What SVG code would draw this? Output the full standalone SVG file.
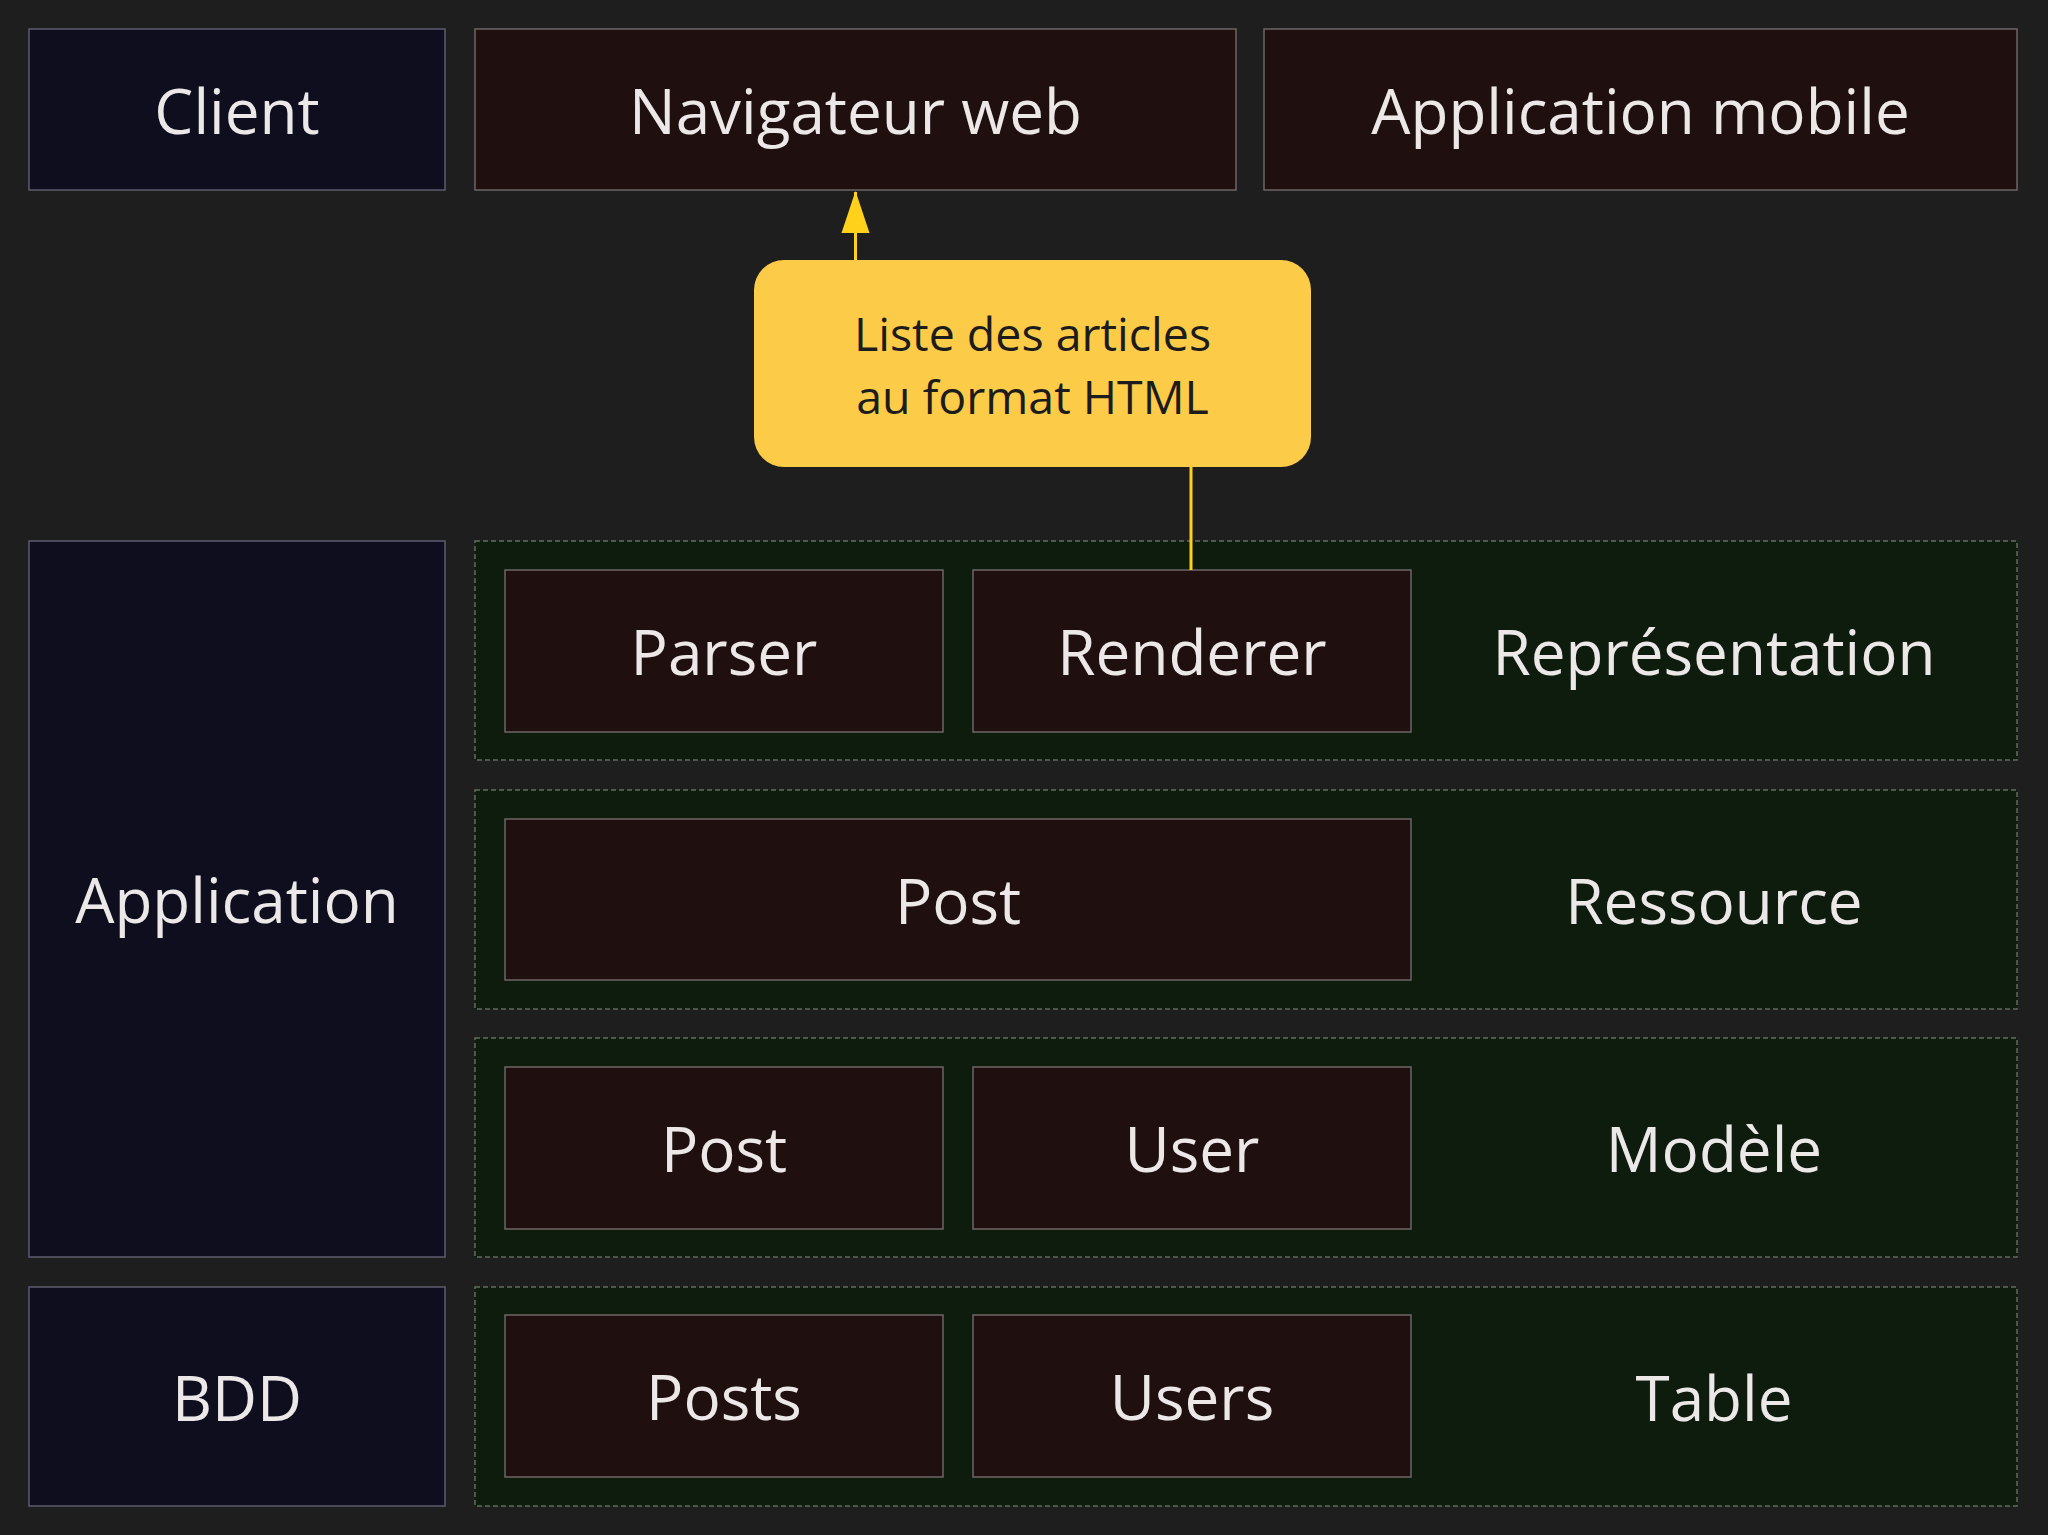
<svg xmlns="http://www.w3.org/2000/svg" width="2048" height="1535" viewBox="0 0 2048 1535">
<defs>
<style>
.bg{fill:#1e1e1e}
.tier{fill:#0e0e1f;stroke:#5c5c6e;stroke-width:1.5}
.comp{fill:#1f0f0f;stroke:#6e6666;stroke-width:1.5}
.layer{fill:#0d1c0d;stroke:#5f6c5f;stroke-width:1.5;stroke-dasharray:5 3}
.lbl{font-family:"Open Sans","Noto Sans","DejaVu Sans",sans-serif;font-size:62px;fill:#ece8e8;text-anchor:middle}
.note{fill:#fccb47}
.ntxt{font-family:"Open Sans","Noto Sans","DejaVu Sans",sans-serif;font-size:46.5px;fill:#1c1c1c;text-anchor:middle}
.conn{stroke:#ffd11a;stroke-width:3;fill:none}
</style>
<marker id="arr" markerUnits="userSpaceOnUse" markerWidth="42" markerHeight="30" viewBox="0 0 42 30" refX="41" refY="15" orient="auto">
<path d="M0,1 L42,15 L0,29 Z" fill="#ffd11a"/>
</marker>
</defs>
<rect class="bg" x="0" y="0" width="2048" height="1535"/>

<g id="client"><rect class="tier" x="29" y="29" width="416" height="161"/><text class="lbl" x="237" y="134">Client</text></g>
<g id="navigateur"><rect class="comp" x="475" y="29" width="761" height="161"/><text class="lbl" x="855.5" y="134">Navigateur web</text></g>
<g id="mobile"><rect class="comp" x="1264" y="29" width="753" height="161"/><text class="lbl" x="1640.5" y="134">Application mobile</text></g>

<g id="application"><rect class="tier" x="29" y="541" width="416" height="716"/><text class="lbl" x="237" y="923">Application</text></g>
<g id="bdd"><rect class="tier" x="29" y="1287" width="416" height="219"/><text class="lbl" x="237" y="1421">BDD</text></g>

<g id="representation"><rect class="layer" x="475" y="541" width="1542" height="219"/><text class="lbl" x="1714" y="675">Représentation</text></g>
<g id="ressource"><rect class="layer" x="475" y="790" width="1542" height="219"/><text class="lbl" x="1714" y="924">Ressource</text></g>
<g id="modele"><rect class="layer" x="475" y="1038" width="1542" height="219"/><text class="lbl" x="1714" y="1172">Modèle</text></g>
<g id="table"><rect class="layer" x="475" y="1287" width="1542" height="219"/><text class="lbl" x="1714" y="1421">Table</text></g>

<g id="parser"><rect class="comp" x="505" y="570" width="438" height="162"/><text class="lbl" x="724" y="675">Parser</text></g>
<g id="renderer"><rect class="comp" x="973" y="570" width="438" height="162"/><text class="lbl" x="1192" y="675">Renderer</text></g>
<g id="post-ressource"><rect class="comp" x="505" y="819" width="906" height="161"/><text class="lbl" x="958" y="924">Post</text></g>
<g id="post-modele"><rect class="comp" x="505" y="1067" width="438" height="162"/><text class="lbl" x="724" y="1172">Post</text></g>
<g id="user"><rect class="comp" x="973" y="1067" width="438" height="162"/><text class="lbl" x="1192" y="1172">User</text></g>
<g id="posts"><rect class="comp" x="505" y="1315" width="438" height="162"/><text class="lbl" x="724" y="1420">Posts</text></g>
<g id="users"><rect class="comp" x="973" y="1315" width="438" height="162"/><text class="lbl" x="1192" y="1420">Users</text></g>

<g id="connectors">
<line class="conn" x1="1191" y1="467" x2="1191" y2="570"/>
<line class="conn" x1="855.5" y1="262" x2="855.5" y2="192" marker-end="url(#arr)"/>
</g>

<g id="note">
<rect class="note" x="754" y="260" width="557" height="207" rx="30" ry="30"/>
<text class="ntxt" x="1032.5" y="351">Liste des articles</text>
<text class="ntxt" x="1032.5" y="414">au format HTML</text>
</g>
</svg>
